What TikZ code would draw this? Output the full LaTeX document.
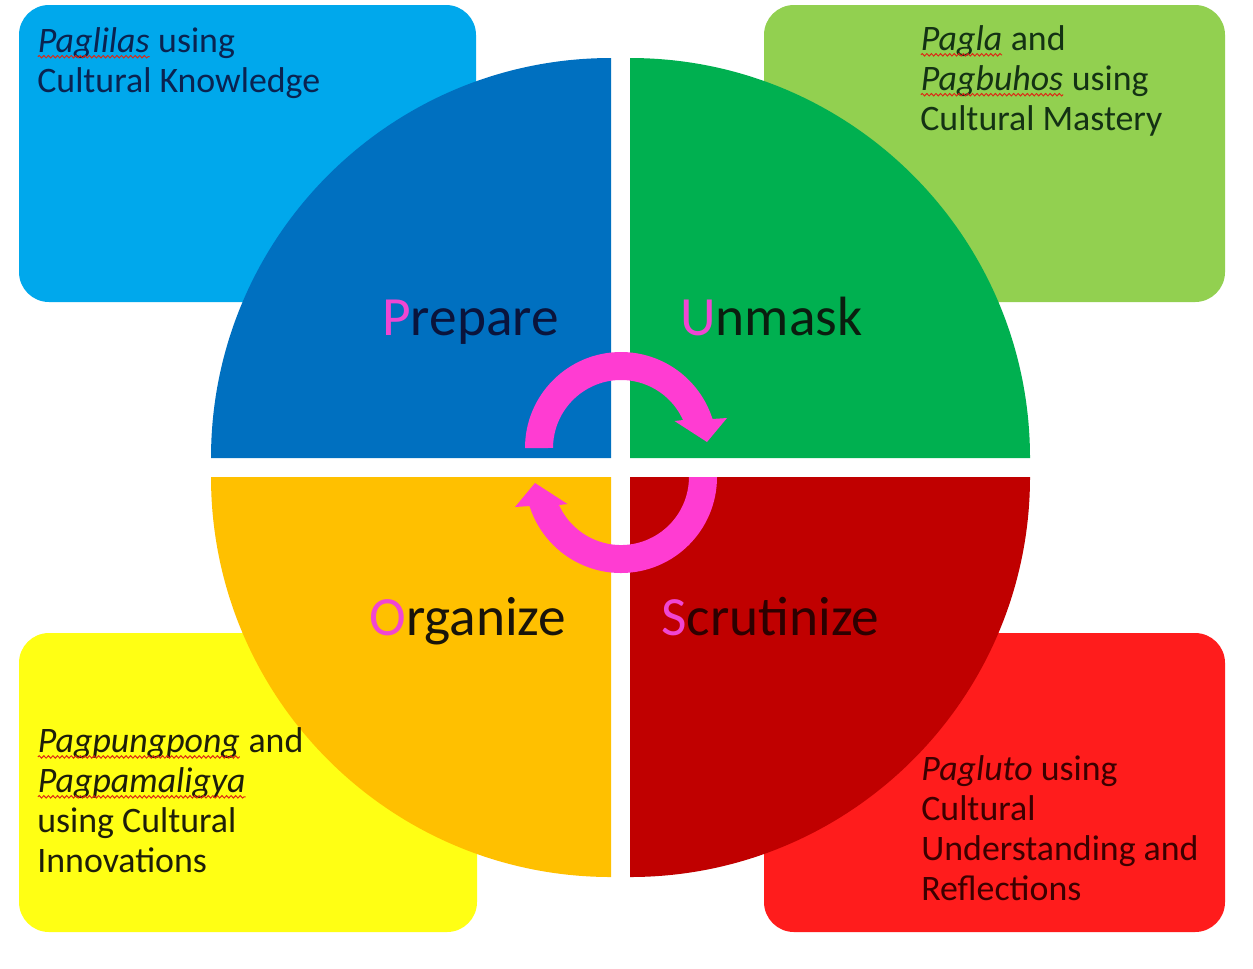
\documentclass[tikz,border=0pt]{standalone}
\usepackage{fontspec}
\setmainfont{Carlito}
\usetikzlibrary{calc,decorations.pathmorphing}
\definecolor{boxblue}{RGB}{0,168,236}
\definecolor{boxgreen}{RGB}{146,208,80}
\definecolor{boxyellow}{RGB}{255,255,20}
\definecolor{boxred}{RGB}{255,28,28}
\definecolor{qblue}{RGB}{0,112,192}
\definecolor{qgreen}{RGB}{0,176,80}
\definecolor{qorange}{RGB}{255,192,0}
\definecolor{qred}{RGB}{192,0,0}
\definecolor{arrowpink}{RGB}{255,60,210}
\definecolor{letterpink}{RGB}{240,70,210}
\definecolor{wavered}{RGB}{220,40,20}
\definecolor{tltext}{RGB}{10,35,80}
\definecolor{trtext}{RGB}{20,50,20}
\definecolor{bltext}{RGB}{30,30,10}
\definecolor{brtext}{RGB}{60,0,0}
\definecolor{preparetext}{RGB}{10,20,60}
\definecolor{unmasktext}{RGB}{10,30,15}
\definecolor{organizetext}{RGB}{25,20,10}
\definecolor{scrutinizetext}{RGB}{45,0,0}
\newcommand\spellwave[1]{\tikz[baseline=(sw.base)]{\node[inner sep=0pt,outer sep=0pt,anchor=base west,align=left] (sw) at (0,0) {#1};\draw[wavered,line width=0.55pt,decorate,decoration={snake,amplitude=0.7pt,segment length=2.6pt}] ([yshift=-2.6pt]sw.base west) -- ([yshift=-2.6pt]sw.base east);}}
\begin{document}
\begin{tikzpicture}[x=0.02cm,y=-0.02cm,
  infobox/.style={rounded corners=0.6cm},
  boxtext/.style={anchor=base west, inner sep=0pt, align=left, font=\fontsize{20.4}{22.7}\selectfont},
  biglabel/.style={anchor=base west, inner sep=0pt, font=\fontsize{31.5}{36}\selectfont}]
\useasboundingbox (0,0) rectangle (1253,968);
\fill[white] (0,0) rectangle (1253,968);
% corner boxes
\fill[boxblue, infobox] (19,5) rectangle (476,302);
\fill[boxgreen, infobox] (764,5) rectangle (1225,302);
\fill[boxyellow, infobox] (19,633) rectangle (477,932);
\fill[boxred, infobox] (764,633) rectangle (1225,932);
% quadrants
\fill[qblue] (611,458) -- ++(180:400) arc[start angle=180,end angle=270,radius=400] -- cycle;
\fill[qgreen] (630,458) -- ++(270:400) arc[start angle=270,end angle=360,radius=400] -- cycle;
\fill[qorange] (611,477) -- ++(90:400) arc[start angle=90,end angle=180,radius=400] -- cycle;
\fill[qred] (630,477) -- ++(0:400) arc[start angle=0,end angle=90,radius=400] -- cycle;
% circular arrows
\fill[arrowpink] (525,448) arc[start angle=180,end angle=342.4,radius=96] -- (727,418) -- (707,442) -- (674.5,421) -- (683,420) arc[start angle=335.7,end angle=180,radius=68] -- cycle;
\fill[arrowpink] (717,477) arc[start angle=0,end angle=162.4,radius=96] -- (515,507) -- (535,483) -- (567.5,504) -- (559,505) arc[start angle=155.7,end angle=0,radius=68] -- cycle;
% box texts (anchored at the baseline of the last line)
\node[boxtext, text=tltext] (tltxt) at (37,92) {\spellwave{\textit{Paglilas}} using\\Cultural Knowledge};
\node[boxtext, text=trtext] (trtxt) at (920,130) {\spellwave{\textit{Pagla}} and\\\spellwave{\textit{Pagbuhos}} using\\Cultural Mastery};
\node[boxtext, text=bltext] (bltxt) at (37,872) {\spellwave{\textit{Pagpungpong}} and\\\spellwave{\textit{Pagpamaligya}}\\using Cultural\\Innovations};
\node[boxtext, text=brtext] (brtxt) at (921,900) {\textit{Pagluto} using\\Cultural\\Understanding and\\Reflections};
% quadrant labels
\node[biglabel, text=preparetext] (prepare) at (382,335) {\textcolor{letterpink}{P}repare};
\node[biglabel, text=unmasktext] (unmask) at (680,335) {\textcolor{letterpink}{U}nmask};
\node[biglabel, text=organizetext] (organize) at (369,635) {\textcolor{letterpink}{O}rganize};
\node[biglabel, text=scrutinizetext] (scrutinize) at (661,635) {\textcolor{letterpink}{S}crutinize};
\end{tikzpicture}
\end{document}
